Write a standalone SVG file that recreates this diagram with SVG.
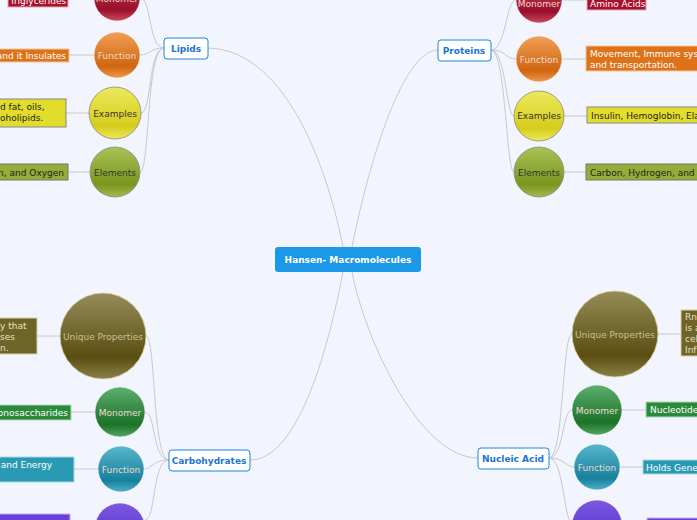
<svg xmlns="http://www.w3.org/2000/svg" width="697" height="520" viewBox="0 0 697 520">
<defs>
<linearGradient id="gRed" x1="0" y1="0" x2="0" y2="1"><stop offset="0" stop-color="#c94a5e"/><stop offset="0.75" stop-color="#9a0f2a"/><stop offset="1" stop-color="#c94a5e"/></linearGradient>
<linearGradient id="gOr" x1="0" y1="0" x2="0" y2="1"><stop offset="0" stop-color="#f0a057"/><stop offset="0.75" stop-color="#d0650f"/><stop offset="1" stop-color="#ef9a4e"/></linearGradient>
<linearGradient id="gYe" x1="0" y1="0" x2="0" y2="1"><stop offset="0" stop-color="#ecea5c"/><stop offset="0.75" stop-color="#d6cc1c"/><stop offset="1" stop-color="#ece85a"/></linearGradient>
<linearGradient id="gOl" x1="0" y1="0" x2="0" y2="1"><stop offset="0" stop-color="#a9c256"/><stop offset="0.75" stop-color="#7a961f"/><stop offset="1" stop-color="#a2bb50"/></linearGradient>
<linearGradient id="gBr" x1="0" y1="0" x2="0" y2="1"><stop offset="0" stop-color="#968c58"/><stop offset="0.75" stop-color="#5a4e12"/><stop offset="1" stop-color="#8a8048"/></linearGradient>
<linearGradient id="gGr" x1="0" y1="0" x2="0" y2="1"><stop offset="0" stop-color="#5fae6e"/><stop offset="0.75" stop-color="#1a7329"/><stop offset="1" stop-color="#57a666"/></linearGradient>
<linearGradient id="gTe" x1="0" y1="0" x2="0" y2="1"><stop offset="0" stop-color="#58b6cc"/><stop offset="0.75" stop-color="#16819c"/><stop offset="1" stop-color="#50b0c8"/></linearGradient>
<linearGradient id="gPu" x1="0" y1="0" x2="0" y2="1"><stop offset="0" stop-color="#7b5ae0"/><stop offset="1" stop-color="#4c25c8"/></linearGradient>
</defs>
<style>
text{font-family:"DejaVu Sans",Verdana,sans-serif;font-size:9px}
.ct{fill:#f0d8cc;text-anchor:middle;dominant-baseline:central}
.up{fill:#c8c090;text-anchor:middle;dominant-baseline:central}
.dk{fill:#333;text-anchor:middle;dominant-baseline:central}
.br{stroke:#ffffff;stroke-width:0.5}
.lt{fill:#fff}
.bt{fill:#e8e0c0}
.db{fill:#222}
.mb{fill:#fff;stroke:#1a86e0;stroke-width:1}
.mt{fill:#1a73d9;font-weight:bold;text-anchor:middle;dominant-baseline:central}
.ln{fill:none;stroke:#c8c8cc;stroke-width:1}
</style>
<rect width="697" height="520" fill="#f3f5fe"/>
<g id="connectors">
<path class="ln" d="M343,247 C330,180 290,50 208,48"/>
<path class="ln" d="M352,247 C365,180 400,50 438,50"/>
<path class="ln" d="M343,272 C330,340 300,460 250,460"/>
<path class="ln" d="M352,272 C365,340 420,458 478,458"/>
<path class="ln" d="M164,48 C148,48 152,-2 140,-2 M164,48 C150,48 150,55 140,55 M164,48 C148,48 152,113 141,113 M164,48 C146,48 150,172 140,172"/>
<path class="ln" d="M94,-2 H68 M94,55 H69 M89,113 H66 M90,172 H68"/>
<path class="ln" d="M491,50 C506,50 506,0 516,0 M491,50 C506,50 506,59 516,59 M491,50 C506,50 506,116 514,116 M491,50 C506,50 506,172 514,172"/>
<path class="ln" d="M562,0 H587 M562,59 H586 M564,116 H587 M564,172 H586"/>
<path class="ln" d="M169,460 C152,460 156,336 146,336 M169,460 C152,460 156,412 145,412 M169,460 C152,460 152,469 144,469 M169,460 C152,460 156,520 145,520"/>
<path class="ln" d="M60,336 H37 M95,412 H71 M98,469 H74"/>
<path class="ln" d="M549,458 C564,458 562,334 572,334 M549,458 C564,458 562,410 572,410 M549,458 C564,458 566,467 574,467 M549,458 C564,458 564,523 572,523"/>
<path class="ln" d="M658,334 H681 M622,410 H646 M620,467 H643"/>
</g>
<g id="center"><rect x="275" y="247" width="146" height="25" rx="3" fill="#1b98e8"/><text x="348" y="260" fill="#fff" font-weight="bold" text-anchor="middle" dominant-baseline="central">Hansen- Macromolecules</text></g>
<g id="lipids"><rect class="mb" x="164" y="38" width="44" height="21" rx="3"/><text class="mt" x="186" y="49">Lipids</text></g>
<g id="proteins"><rect class="mb" x="438" y="40" width="53" height="21" rx="3"/><text class="mt" x="464" y="51">Proteins</text></g>
<g id="carbs"><rect class="mb" x="169" y="450" width="81" height="21" rx="3"/><text class="mt" x="209" y="461">Carbohydrates</text></g>
<g id="nucleic"><rect class="mb" x="478" y="448" width="71" height="21" rx="3"/><text class="mt" x="513" y="459">Nucleic Acid</text></g>

<g id="l-monomer"><circle cx="117" cy="-2" r="23" fill="url(#gRed)" class="br"/><text class="ct" x="117" y="-1">Monomer</text><rect x="8" y="-6" width="60" height="13" fill="#a8102c" stroke="#e7aab5"/><text class="lt" x="38" y="4" text-anchor="middle">Triglycerides</text></g>
<g id="l-function"><circle cx="117" cy="55" r="23" fill="url(#gOr)" class="br"/><text class="ct" x="117" y="56">Function</text><rect x="-2" y="49" width="71" height="13" fill="#de7218" stroke="#f4c49a"/><text class="lt" x="66" y="59" text-anchor="end">and it Insulates</text></g>
<g id="l-examples"><circle cx="115" cy="113" r="26" fill="url(#gYe)" stroke="#888" stroke-width="0.8"/><text class="dk" x="115" y="114">Examples</text><rect x="-2" y="99" width="68" height="28" fill="#e2dc2a" stroke="#888"/><text class="db" x="0" y="110">d fat, oils,</text><text class="db" x="0" y="121">oholipids.</text></g>
<g id="l-elements"><circle cx="115" cy="172" r="25" fill="url(#gOl)" stroke="#888" stroke-width="0.8"/><text class="dk" x="115" y="173">Elements</text><rect x="-2" y="164" width="70" height="16" fill="#93ad36" stroke="#777"/><text class="db" x="64" y="176" text-anchor="end">n, and Oxygen</text></g>

<g id="p-monomer"><circle cx="539" cy="0" r="23" fill="url(#gRed)" class="br"/><text class="ct" x="539" y="4">Monomer</text><rect x="587" y="-4" width="59" height="14" fill="#a8102c" stroke="#e7aab5"/><text class="lt" x="590" y="7">Amino Acids</text></g>
<g id="p-function"><circle cx="539" cy="59" r="23" fill="url(#gOr)" class="br"/><text class="ct" x="539" y="60">Function</text><rect x="586" y="46" width="115" height="25" fill="#de7218" stroke="#f4c49a"/><text class="lt" x="590" y="57">Movement, Immune system</text><text class="lt" x="590" y="68">and transportation.</text></g>
<g id="p-examples"><circle cx="539" cy="116" r="25" fill="url(#gYe)" stroke="#888" stroke-width="0.8"/><text class="dk" x="539" y="116">Examples</text><rect x="587" y="107" width="115" height="16" fill="#e2dc2a" stroke="#888"/><text class="db" x="591" y="119">Insulin, Hemoglobin, Elastin</text></g>
<g id="p-elements"><circle cx="539" cy="172" r="25" fill="url(#gOl)" stroke="#888" stroke-width="0.8"/><text class="dk" x="539" y="173">Elements</text><rect x="586" y="164" width="115" height="16" fill="#93ad36" stroke="#777"/><text class="db" x="590" y="176">Carbon, Hydrogen, and O</text></g>

<g id="c-unique"><circle cx="103" cy="336" r="43" fill="url(#gBr)" stroke="#d8d0a0" stroke-width="0.8"/><text class="up" x="103" y="337">Unique Properties</text><rect x="-2" y="318" width="39" height="36" fill="#6e6428" stroke="#d8d0a0"/><text class="bt" x="0" y="329">y that</text><text class="bt" x="0" y="340">ses</text><text class="bt" x="0" y="351">n.</text></g>
<g id="c-monomer"><circle cx="120" cy="412" r="25" fill="url(#gGr)" class="br"/><text class="ct" x="120" y="413">Monomer</text><rect x="-2" y="405" width="73" height="15" fill="#2a8a3a" stroke="#b0d8b8"/><text class="lt" x="68" y="416" text-anchor="end">Monosaccharides</text></g>
<g id="c-function"><circle cx="121" cy="469" r="23" fill="url(#gTe)" class="br"/><text class="ct" x="121" y="470">Function</text><rect x="-2" y="457" width="76" height="25" fill="#2a9ab4" stroke="#a8d8e4"/><text class="lt" x="52" y="468" text-anchor="end">and Energy</text></g>
<g id="c-purple"><circle cx="120" cy="528" r="25" fill="url(#gPu)" class="br"/><rect x="-2" y="514" width="72" height="12" fill="#6a40d8" stroke="#c0b0f0"/></g>

<g id="n-unique"><circle cx="615" cy="334" r="43" fill="url(#gBr)" stroke="#d8d0a0" stroke-width="0.8"/><text class="up" x="615" y="335">Unique Properties</text><rect x="681" y="310" width="20" height="46" fill="#6e6428" stroke="#d8d0a0"/><text class="bt" x="685" y="320">Rn</text><text class="bt" x="685" y="331">is a</text><text class="bt" x="685" y="342">cel</text><text class="bt" x="685" y="353">Inf</text></g>
<g id="n-monomer"><circle cx="597" cy="410" r="25" fill="url(#gGr)" class="br"/><text class="ct" x="597" y="411">Monomer</text><rect x="646" y="402" width="55" height="15" fill="#2a8a3a" stroke="#b0d8b8"/><text class="lt" x="650" y="413">Nucleotide</text></g>
<g id="n-function"><circle cx="597" cy="467" r="23" fill="url(#gTe)" class="br"/><text class="ct" x="597" y="468">Function</text><rect x="643" y="460" width="58" height="14" fill="#2a9ab4" stroke="#a8d8e4"/><text class="lt" x="646" y="471">Holds Genet</text></g>
<g id="n-purple"><circle cx="597" cy="525" r="25" fill="url(#gPu)" class="br"/><rect x="647" y="518" width="54" height="10" fill="#6a40d8" stroke="#c0b0f0"/></g>
</svg>
